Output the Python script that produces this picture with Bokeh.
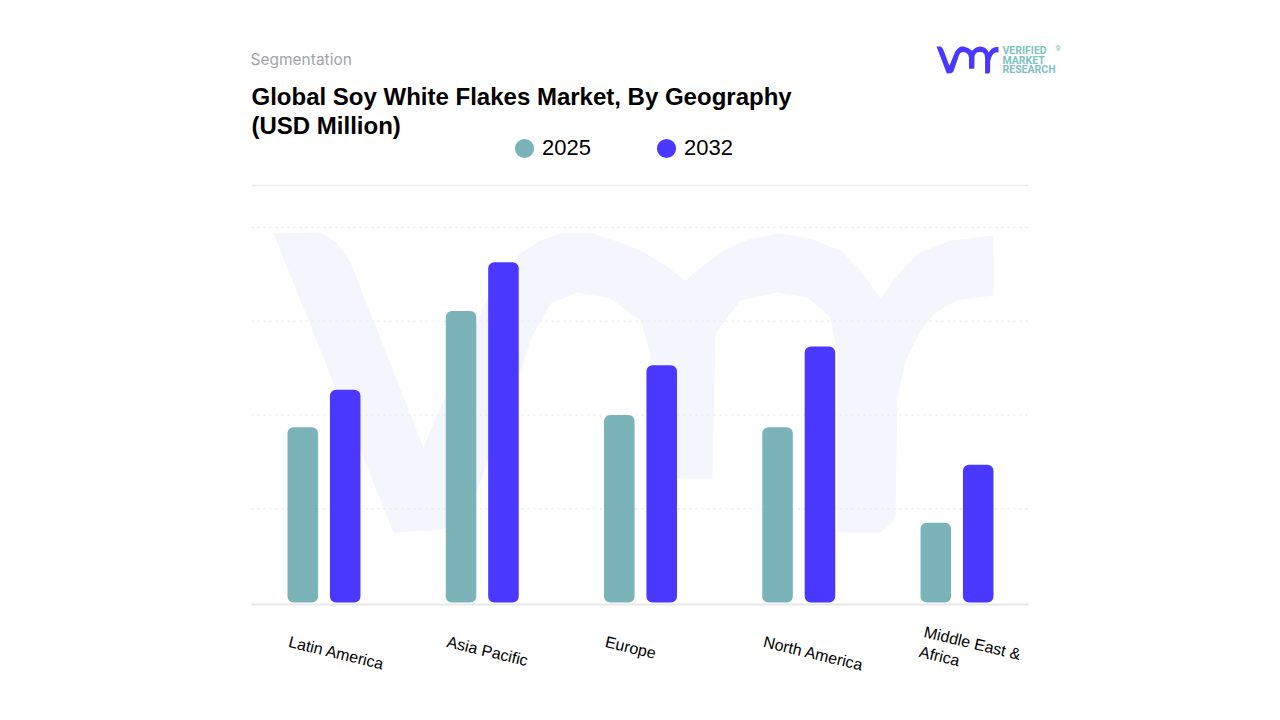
from bokeh.core.properties import value
from bokeh.embed import file_html
from bokeh.resources import INLINE
from bokeh.plotting import figure
from bokeh.models import (Range1d, ColumnDataSource, LabelSet, Label,
                          PolyAnnotation, Legend, LegendItem)
from bokeh.transform import dodge

categories = ["Latin America", "Asia Pacific", "Europe", "North America", "Middle East &\nAfrica"]
series_names = ["2025", "2032"]
values_2025 = [1.87, 3.11, 2.00, 1.87, 0.85]
values_2032 = [2.27, 3.63, 2.53, 2.73, 1.47]
grid_ticks = [1, 2, 3, 4]

TEAL = "#7ab3b8"
BLUE = "#4b38ff"
GRID = "#ececec"

W, H = 1280, 720
def sx(px): return px          # the frame fills the page: screen units run from its lower left corner
def sy(py): return H - py

# "vmr" silhouette, page pixels
VMR = [(273,233),(320,232),(336,242),(350,262),(423,447),(487,297),(505,270),(520,253),(540,240),
       (560,233),(593,233),(620,242),(640,250),(665,265),(685,280),(703,265),(723,250),(750,238),
       (780,233),(810,238),(840,250),(862,272),(880,298),(897,275),(917,253),(950,240),(993,235),
       (993,295),(957,300),(935,312),(920,330),(905,360),(897,397),(895,513),(892,522),(880,532),
       (837,532),(837,353),(830,317),(807,297),(777,292),(740,300),(715,333),(712,478),(650,478),
       (650,353),(640,320),(610,298),(577,292),(550,303),(533,333),(477,490),(465,515),(447,527),
       (433,530),(393,532)]

p = figure(width=W, height=H, output_backend="svg", toolbar_location=None,
           x_range=Range1d(-2.0442, 6.0442), y_range=Range1d(-1.2587, 6.4213),
           min_border=0, outline_line_color=None)
p.axis.visible = False
p.grid.visible = False

# watermark
p.add_layout(PolyAnnotation(xs=[sx(a) for a, _ in VMR], ys=[sy(b) for _, b in VMR],
                            xs_units="screen", ys_units="screen",
                            fill_color="#f5f6fd", fill_alpha=1, line_color=None, level="underlay"))
# logo: same silhouette scaled into the top right corner
lx = [936 + (a - 273) * 62 / 720 for a, _ in VMR]
ly = [46 + (b - 232) * 27 / 300 for _, b in VMR]
p.add_layout(PolyAnnotation(xs=[sx(a) for a in lx], ys=[sy(b) for b in ly],
                            xs_units="screen", ys_units="screen",
                            fill_color=BLUE, fill_alpha=1, line_color=None))

# grid, top rule and baseline span the plot area only
X0, X1 = -0.458, 4.452
p.segment(x0=[X0] * len(grid_ticks), x1=[X1] * len(grid_ticks), y0=grid_ticks, y1=grid_ticks,
          line_color=GRID, line_width=1.5, line_dash="dotted")
p.segment(x0=[X0], x1=[X1], y0=[4.448], y1=[4.448], line_color=GRID, line_width=1.5)
p.segment(x0=[X0], x1=[X1], y0=[-0.0213], y1=[-0.0213], line_color="#e8e8ea", line_width=2)

src = ColumnDataSource(dict(x=list(range(len(categories))), cat=categories,
                            v25=values_2025, v32=values_2032, y0=[0] * len(categories)))
p.vbar(x=dodge("x", -0.134, range=p.x_range), top="v25", bottom=0, width=0.193, source=src,
       fill_color=TEAL, line_color=None, border_radius=6)
p.vbar(x=dodge("x", 0.134, range=p.x_range), top="v32", bottom=0, width=0.193, source=src,
       fill_color=BLUE, line_color=None, border_radius=6)

p.add_layout(LabelSet(x="x", y="y0", text="cat", source=src, x_offset=-35, y_offset=-39,
                      angle=-13.5, angle_units="deg", text_align="left", text_baseline="middle",
                      text_font=value("Liberation Sans"), text_font_size="16px", text_color="#000000",
                      text_line_height=1.2))

# legend-only keys: the ellipses sit outside the visible range, the legend draws them as circles
dot_a = p.ellipse([-100], [0], width=10, height=10, width_units="screen", height_units="screen",
                  fill_color=TEAL, line_color=None)
dot_b = p.ellipse([-100], [0], width=10, height=10, width_units="screen", height_units="screen",
                  fill_color=BLUE, line_color=None)
legend = Legend(items=[LegendItem(label=series_names[0], renderers=[dot_a]),
                       LegendItem(label=series_names[1], renderers=[dot_b])],
                orientation="horizontal", location=(512, H - 161),
                glyph_width=24, glyph_height=24, label_standoff=6, spacing=63,
                padding=0, margin=0, background_fill_alpha=0, border_line_color=None,
                label_text_font="Liberation Sans", label_text_font_size="22px",
                label_text_color="#000000")
p.add_layout(legend, "center")

def text(txt, x, y, **kw):
    p.add_layout(Label(x=sx(x), y=sy(y), x_units="screen", y_units="screen", text=txt,
                       text_baseline="middle", **kw))

text("Segmentation", 250, 59, text_font="Inter", text_font_size="15.5px", text_color="#a3a3ab")
text("Global Soy White Flakes Market, By Geography\n(USD Million)", 251, 110.5,
     text_font="Liberation Sans", text_font_style="bold", text_font_size="24px",
     text_color="#000000", text_line_height=1.08)
for line, yy in zip(["VERIFIED", "MARKET", "RESEARCH"], [50, 60, 69]):
    text(line, 1002, yy, text_font="Roboto", text_font_size="10.5px", text_font_style="bold",
         text_color="#7cc4bd")
text("®", 1055, 48, text_font="Roboto", text_font_size="7px", text_color="#7cc4bd")

open("out.html", "w").write(file_html(p, INLINE))
